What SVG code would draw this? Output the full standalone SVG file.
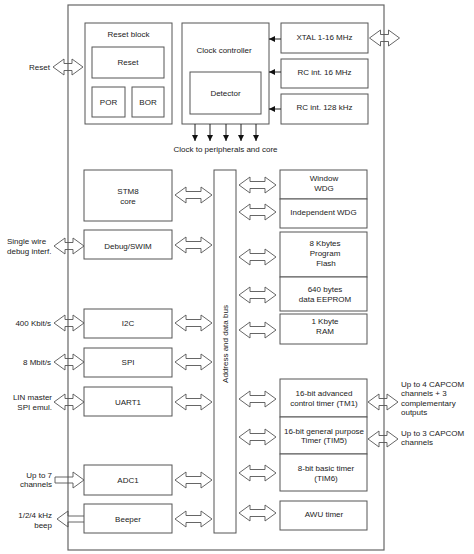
<svg xmlns="http://www.w3.org/2000/svg" width="474" height="554" viewBox="0 0 474 554">
<style>
.box{fill:#fff;stroke:#555;stroke-width:1}
.frame{fill:none;stroke:#666;stroke-width:1.2}
.t{font-family:"Liberation Sans",Arial,sans-serif;font-size:8px;fill:#222;text-anchor:middle}
.l{text-anchor:start}
.r{text-anchor:end}
.da{fill:none;stroke:#555;stroke-width:0.9}
.cl{stroke:#222;stroke-width:1;fill:none}
</style>
<defs>
<path id="da30" d="M-15 0 L-4 -8 L-4 -3.5 L4 -3.5 L4 -8 L15 0 L4 8 L4 3.5 L-4 3.5 L-4 8 Z"/>
<path id="da37" d="M-18.5 0 L-7.5 -8 L-7.5 -3.5 L7.5 -3.5 L7.5 -8 L18.5 0 L7.5 8 L7.5 3.5 L-7.5 3.5 L-7.5 8 Z"/>
<marker id="ah" viewBox="0 0 10 10" refX="10" refY="5" markerWidth="6" markerHeight="6" orient="auto" markerUnits="userSpaceOnUse">
<path d="M0 0 L10 5 L0 10 Z" fill="#111"/>
</marker>
</defs>
<rect width="474" height="554" fill="#fff"/>
<rect id="frame" class="frame" x="68" y="5" width="316" height="545"/>

<g id="reset-block">
<rect class="box" x="85" y="23" width="87" height="101"/>
<text class="t" x="128.5" y="37">Reset block</text>
</g>
<g id="reset"><rect class="box" x="92" y="47" width="72" height="31"/><text class="t" x="128" y="65">Reset</text></g>
<g id="por"><rect class="box" x="92" y="87" width="33" height="30"/><text class="t" x="108.5" y="105">POR</text></g>
<g id="bor"><rect class="box" x="132" y="87" width="32" height="30"/><text class="t" x="148" y="105">BOR</text></g>

<g id="clock-controller">
<rect class="box" x="182" y="23" width="87" height="101"/>
<text class="t" x="224" y="53">Clock controller</text>
</g>
<g id="detector"><rect class="box" x="190" y="72" width="71" height="42"/><text class="t" x="225.5" y="96">Detector</text></g>

<g id="xtal"><rect class="box" x="281" y="23" width="87" height="30"/><text class="t" x="324.5" y="40">XTAL 1-16 MHz</text></g>
<g id="rc16"><rect class="box" x="281" y="59" width="87" height="29"/><text class="t" x="324.5" y="75">RC int. 16 MHz</text></g>
<g id="rc128"><rect class="box" x="281" y="94" width="87" height="30"/><text class="t" x="324.5" y="110">RC int. 128 kHz</text></g>

<g id="bus">
<rect class="box" x="214" y="170" width="22" height="363"/>
<text class="t" transform="translate(228,344) rotate(-90)">Address and data bus</text>
</g>

<g id="stm8"><rect class="box" x="84" y="170" width="88" height="51"/><text class="t" x="128" y="194">STM8</text><text class="t" x="128" y="204">core</text></g>
<g id="debug"><rect class="box" x="84" y="230" width="88" height="29"/><text class="t" x="128" y="249">Debug/SWIM</text></g>
<g id="i2c"><rect class="box" x="84" y="309" width="88" height="29"/><text class="t" x="128" y="326">I2C</text></g>
<g id="spi"><rect class="box" x="84" y="348" width="88" height="29"/><text class="t" x="128" y="365">SPI</text></g>
<g id="uart1"><rect class="box" x="84" y="387" width="88" height="29"/><text class="t" x="128" y="405">UART1</text></g>
<g id="adc1"><rect class="box" x="84" y="465" width="88" height="30"/><text class="t" x="128" y="483">ADC1</text></g>
<g id="beeper"><rect class="box" x="84" y="504" width="88" height="29"/><text class="t" x="128" y="522">Beeper</text></g>

<g id="wwdg"><rect class="box" x="280" y="170" width="87" height="29"/><text class="t" x="324" y="181">Window</text><text class="t" x="324" y="191">WDG</text></g>
<g id="iwdg"><rect class="box" x="280" y="199" width="87" height="29"/><text class="t" x="323.5" y="215">Independent WDG</text></g>
<g id="flash"><rect class="box" x="280" y="232" width="87" height="45"/><text class="t" x="325" y="246">8 Kbytes</text><text class="t" x="325" y="256">Program</text><text class="t" x="326" y="266">Flash</text></g>
<g id="eeprom"><rect class="box" x="280" y="277" width="87" height="34"/><text class="t" x="325" y="292">640 bytes</text><text class="t" x="325" y="302">data EEPROM</text></g>
<g id="ram"><rect class="box" x="280" y="314" width="87" height="30"/><text class="t" x="325" y="324">1 Kbyte</text><text class="t" x="325" y="334">RAM</text></g>
<g id="tim1"><rect class="box" x="280" y="379" width="87" height="38"/><text class="t" x="324" y="396">16-bit advanced</text><text class="t" x="324" y="406">control timer (TM1)</text></g>
<g id="tim5"><rect class="box" x="280" y="417" width="87" height="37"/><text class="t" x="324" y="434">16-bit general purpose</text><text class="t" x="324" y="443">Timer (TIM5)</text></g>
<g id="tim6"><rect class="box" x="280" y="454" width="87" height="37"/><text class="t" x="326" y="471">8-bit basic timer</text><text class="t" x="326" y="481">(TIM6)</text></g>
<g id="awu"><rect class="box" x="280" y="501" width="87" height="29"/><text class="t" x="324" y="517">AWU timer</text></g>

<g id="connectors">
<line class="cl" x1="281" y1="39" x2="269" y2="39" marker-end="url(#ah)"/>
<line class="cl" x1="281" y1="72" x2="269" y2="72" marker-end="url(#ah)"/>
<line class="cl" x1="281" y1="109" x2="269" y2="109" marker-end="url(#ah)"/>
<line class="cl" x1="195" y1="124" x2="195" y2="141" marker-end="url(#ah)"/>
<line class="cl" x1="210" y1="124" x2="210" y2="141" marker-end="url(#ah)"/>
<line class="cl" x1="226" y1="124" x2="226" y2="141" marker-end="url(#ah)"/>
<line class="cl" x1="241" y1="124" x2="241" y2="141" marker-end="url(#ah)"/>
<line class="cl" x1="256" y1="124" x2="256" y2="141" marker-end="url(#ah)"/>

<use href="#da30" class="da" transform="translate(68,67)"/>
<use href="#da30" class="da" transform="translate(69,246)"/>
<use href="#da30" class="da" transform="translate(69,323)"/>
<use href="#da30" class="da" transform="translate(69,362)"/>
<use href="#da30" class="da" transform="translate(69,402)"/>
<path class="da" d="M55 477 L73 477 L73 472 L84 480 L73 488 L73 483 L55 483 Z"/>
<path class="da" d="M84 516 L68 516 L68 511 L57 519 L68 527 L68 522 L84 522"/>
<use href="#da30" class="da" transform="translate(384.5,38)"/>
<use href="#da30" class="da" transform="translate(383,402)"/>
<use href="#da30" class="da" transform="translate(383,439)"/>

<use href="#da37" class="da" transform="translate(193.5,195)"/>
<use href="#da37" class="da" transform="translate(193.5,245)"/>
<use href="#da37" class="da" transform="translate(193.5,323)"/>
<use href="#da37" class="da" transform="translate(193.5,362)"/>
<use href="#da37" class="da" transform="translate(193.5,402)"/>
<use href="#da37" class="da" transform="translate(193.5,480)"/>
<use href="#da37" class="da" transform="translate(193.5,519)"/>

<use href="#da37" class="da" transform="translate(257.5,185)"/>
<use href="#da37" class="da" transform="translate(257.5,212)"/>
<use href="#da37" class="da" transform="translate(257.5,257)"/>
<use href="#da37" class="da" transform="translate(257.5,295)"/>
<use href="#da37" class="da" transform="translate(257.5,330)"/>
<use href="#da37" class="da" transform="translate(257.5,399)"/>
<use href="#da37" class="da" transform="translate(257.5,437)"/>
<use href="#da37" class="da" transform="translate(257.5,473)"/>
<use href="#da37" class="da" transform="translate(257.5,513)"/>
</g>

<g id="labels">
<text class="t" x="225.5" y="152">Clock to peripherals and core</text>
<text class="t r" x="50" y="70">Reset</text>
<text class="t l" x="7" y="244">Single wire</text>
<text class="t l" x="7" y="254">debug interf.</text>
<text class="t r" x="51" y="326">400 Kbit/s</text>
<text class="t r" x="51" y="365">8 Mbit/s</text>
<text class="t r" x="52" y="400">LIN master</text>
<text class="t r" x="52" y="410">SPI emul.</text>
<text class="t r" x="52" y="478">Up to 7</text>
<text class="t r" x="52" y="487">channels</text>
<text class="t r" x="52" y="518">1/2/4 kHz</text>
<text class="t r" x="52" y="528">beep</text>
<text class="t l" x="401" y="387">Up to 4 CAPCOM</text>
<text class="t l" x="401" y="396">channels + 3</text>
<text class="t l" x="401" y="406">complementary</text>
<text class="t l" x="401" y="415">outputs</text>
<text class="t l" x="401" y="436">Up to 3 CAPCOM</text>
<text class="t l" x="401" y="445">channels</text>
</g>
</svg>
